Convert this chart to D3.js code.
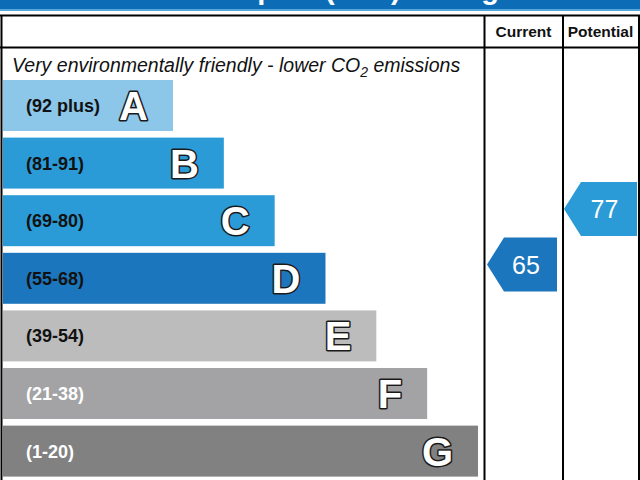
<!DOCTYPE html>
<html><head><meta charset="utf-8">
<script src="https://cdn.jsdelivr.net/npm/d3@7"></script>
<style>html,body{margin:0;padding:0;background:#fff;}svg{display:block;}</style>
</head><body>
<svg id="c" width="640" height="480"></svg>
<script>
const title = "Environmental Impact (CO\u2082) Rating";
const columns = ["Current", "Potential"];
const bands = ["A", "B", "C", "D", "E", "F", "G"];
const rangeLabels = ["(92 plus)", "(81-91)", "(69-80)", "(55-68)", "(39-54)", "(21-38)", "(1-20)"];
const lows = [92, 81, 69, 55, 39, 21, 1];
const highs = [100, 91, 80, 68, 54, 38, 20];
const ratings = [65, 77]; // current, potential

const bandColors = ["#8cc6e8", "#2a9bd6", "#2a9bd6", "#1c76bd", "#bcbcbc", "#a3a3a5", "#818181"];
const labelColors = ["#111", "#111", "#111", "#111", "#111", "#fff", "#fff"];

const svg = d3.select("#c");
const font = "'Liberation Sans', Arial, sans-serif";

// header band
svg.append("rect").attr("x", 0).attr("y", 0).attr("width", 640).attr("height", 10).attr("fill", "#0c6db6");
svg.append("rect").attr("x", 0).attr("y", 9).attr("width", 640).attr("height", 2).attr("fill", "#55a7dc");
svg.append("text").attr("x", 14).attr("y", -1).attr("text-anchor", "start")
  .attr("font-family", font).attr("font-weight", "bold").attr("font-size", 29).attr("fill", "#fff").text(title);

// scales
const y = d3.scaleBand().domain(bands).range([80, 476.6]).paddingInner(0.115).paddingOuter(0);
const xEnd = d3.scaleLinear().domain([0, bands.length - 1]).range([173, 478]);
const colX = d3.scaleBand().domain(columns).range([485, 639]);

// bars
const g = svg.append("g");
bands.forEach((b, i) => {
  const top = y(b), h = y.bandwidth();
  g.append("rect").attr("x", 3).attr("y", top).attr("width", xEnd(i) - 3).attr("height", h).attr("fill", bandColors[i]);
  g.append("text").attr("x", 26).attr("y", top + h / 2 + 6.5)
    .attr("font-family", font).attr("font-weight", "bold").attr("font-size", 18)
    .attr("fill", labelColors[i]).text(rangeLabels[i]);
  g.append("text").attr("x", xEnd(i) - 25).attr("y", top + h / 2 + 14.5).attr("text-anchor", "end")
    .attr("font-family", font).attr("font-weight", "bold").attr("font-size", 40)
    .attr("fill", "#fff").attr("stroke", "#1a1a1a").attr("stroke-width", 3)
    .attr("stroke-linejoin", "round").attr("paint-order", "stroke").text(b);
});

// italic caption
const cap = svg.append("text").attr("x", 12).attr("y", 72).attr("font-family", font)
  .attr("font-style", "italic").attr("font-size", 19.5).attr("fill", "#111");
cap.append("tspan").text("Very environmentally friendly - lower CO");
cap.append("tspan").attr("font-size", 14).attr("dy", 5).text("2");
cap.append("tspan").attr("dy", -5).text(" emissions");

// grid lines
const line = (x1, y1, x2, y2, w) => svg.append("line").attr("x1", x1).attr("y1", y1).attr("x2", x2).attr("y2", y2)
  .attr("stroke", "#000").attr("stroke-width", w);
line(0, 15.5, 640, 15.5, 2);
line(1.5, 15, 1.5, 480, 2);
line(0, 47.5, 640, 47.5, 2);
line(484.5, 15, 484.5, 480, 2);
line(563, 15, 563, 480, 2);
line(639, 15, 639, 480, 2);

// column headers
columns.forEach(c => {
  svg.append("text").attr("x", colX(c) + colX.bandwidth() / 2).attr("y", 37).attr("text-anchor", "middle")
    .attr("font-family", font).attr("font-weight", "bold").attr("font-size", 15.5).attr("fill", "#111").text(c);
});

// rating arrows
ratings.forEach((v, k) => {
  const i = bands.findIndex((b, j) => v >= lows[j] && v <= highs[j]);
  const pos = d3.scaleLinear().domain([highs[i], lows[i]]).range([y(bands[i]), y(bands[i]) + y.bandwidth()]);
  const cy = pos(v);
  const c = columns[k];
  const left = colX(c) + 2, right = colX(c) + colX.bandwidth() - (k === 0 ? 5 : 2);
  const hh = 27, tip = 17;
  const pts = [[left, cy], [left + tip, cy - hh], [right, cy - hh], [right, cy + hh], [left + tip, cy + hh]];
  svg.append("path").attr("d", d3.line()(pts) + "Z").attr("fill", bandColors[i]);
  svg.append("text").attr("x", (left + right) / 2 + 4).attr("y", cy + 9).attr("text-anchor", "middle")
    .attr("font-family", font).attr("font-size", 25).attr("fill", "#fff").text(v);
});
</script>
</body></html>
